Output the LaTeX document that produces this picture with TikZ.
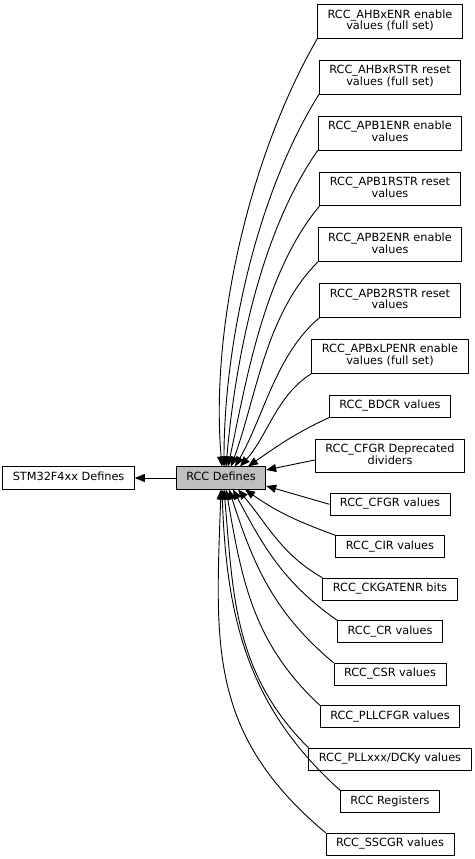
\documentclass[tikz,border=0pt]{standalone}
\usepackage{fontspec}
\setmainfont{DejaVu Sans}
\usetikzlibrary{arrows.meta, positioning}
\definecolor{groupgray}{HTML}{BFBFBF}

\begin{document}
\begin{tikzpicture}[x=1pt, y=1pt, node distance=19.5pt,
        grp/.style={draw, line width=0.9pt, align=center, inner xsep=10pt, inner ysep=5pt,
            font=\fontsize{11.3}{11.7}\selectfont,
            execute at begin node=\strut, execute at end node=\strut},
        link/.style={-{Triangle[length=10pt, width=8pt]}, line width=0.9pt}]
        \useasboundingbox (0,0) rectangle (474,859);

        \node (rcc) [grp, fill=groupgray] at (221,381) {RCC Defines};
        \node (stm) [grp, left=41pt of rcc] {STM32F4xx Defines};

        \node (ahbenr) [grp] at (390,837.5) {RCC\_AHBxENR enable\\values (full set)};
        \node (ahbrstr) [grp, below=21.2pt of ahbenr] {RCC\_AHBxRSTR reset\\values (full set)};
        \node (apb1enr) [grp, below=21.2pt of ahbrstr] {RCC\_APB1ENR enable\\values};
        \node (apb1rstr) [grp, below=21.2pt of apb1enr] {RCC\_APB1RSTR reset\\values};
        \node (apb2enr) [grp, below=21.2pt of apb1rstr] {RCC\_APB2ENR enable\\values};
        \node (apb2rstr) [grp, below=21.2pt of apb2enr] {RCC\_APB2RSTR reset\\values};
        \node (lpenr) [grp, below=21.2pt of apb2rstr] {RCC\_APBxLPENR enable\\values (full set)};
        \node (bdcr) [grp, below=21pt of lpenr] {RCC\_BDCR values};
        \node (cfgrdep) [grp, below=21pt of bdcr] {RCC\_CFGR Deprecated\\dividers};
        \node (cfgr) [grp, below=of cfgrdep] {RCC\_CFGR values};
        \node (cir) [grp, below=of cfgr] {RCC\_CIR values};
        \node (ckgate) [grp, below=of cir] {RCC\_CKGATENR bits};
        \node (cr) [grp, below=of ckgate] {RCC\_CR values};
        \node (csr) [grp, below=of cr] {RCC\_CSR values};
        \node (pllcfgr) [grp, below=of csr] {RCC\_PLLCFGR values};
        \node (pllxxx) [grp, below=of pllcfgr] {RCC\_PLLxxx/DCKy values};
        \node (regs) [grp, below=of pllxxx] {RCC Registers};
        \node (sscgr) [grp, below=of regs] {RCC\_SSCGR values};

        \path[link]
        (rcc) edge (stm)
        (ahbenr.south west) edge [out=240, in=95, looseness=0.8] ([xshift=1pt]rcc.north)
        (ahbrstr.south west) edge [out=238, in=90, looseness=0.8] ([xshift=3pt]rcc.north)
        (apb1enr.south west) edge [out=235, in=85, looseness=0.8] ([xshift=5pt]rcc.north)
        (apb1rstr.south west) edge [out=230, in=78, looseness=0.8] ([xshift=7pt]rcc.north)
        (apb2enr.south west) edge [out=225, in=70, looseness=0.85] ([xshift=10pt]rcc.north)
        (apb2rstr.south west) edge [out=220, in=60, looseness=0.85] ([xshift=14pt]rcc.north)
        (lpenr.south west) edge [out=212, in=48, looseness=0.9] ([xshift=19pt]rcc.north)
        (bdcr.south west) edge [out=205, in=35] ([xshift=27pt]rcc.north)
        ([yshift=-4pt]cfgrdep.west) edge ([yshift=8pt]rcc.east)
        (cfgr.west) edge ([yshift=-8pt]rcc.east)
        (cir.north west) edge [out=160, in=-35] ([xshift=24pt]rcc.south)
        (ckgate.north west) edge [out=150, in=-50] ([xshift=17pt]rcc.south)
        (cr.north west) edge [out=145, in=-62] ([xshift=12pt]rcc.south)
        (csr.north west) edge [out=140, in=-72] ([xshift=8pt]rcc.south)
        (pllcfgr.north west) edge [out=137, in=-80] ([xshift=5pt]rcc.south)
        (pllxxx.north west) edge [out=135, in=-85] ([xshift=3pt]rcc.south)
        (regs.north west) edge [out=138, in=-88] ([xshift=1pt]rcc.south)
        (sscgr.north west) edge [out=140, in=-92, looseness=1.1] ([xshift=0pt]rcc.south);

    \end{tikzpicture}
\end{document}
